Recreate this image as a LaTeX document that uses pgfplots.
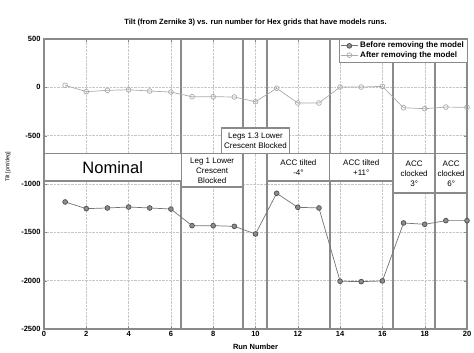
\documentclass[border=0pt]{standalone}
\usepackage{fontspec}
\setmainfont{Liberation Sans}
\usepackage{pgfplots}
\pgfplotsset{compat=1.18}
\definecolor{sepgray}{HTML}{8A8A8A}
\definecolor{darkpt}{HTML}{505050}
\definecolor{fillpt}{HTML}{8C8C8C}
\definecolor{lightpt}{HTML}{ABABAB}
\begin{document}
\begin{tikzpicture}
\begin{axis}[name=ax, scale only axis, width=423pt, height=290pt,
  xmin=0, xmax=20, ymin=-2500, ymax=500,
  xtick={0,2,...,20}, ytick={-2500,-2000,...,500},
  grid=major, grid style={densely dotted, gray!45},
  axis line style={sepgray, line width=1.2pt},
  tick align=inside, major tick length=3pt, tick style={sepgray},
  ticklabel style={font=\fontsize{7.5}{8}\selectfont\bfseries},
  /pgf/number format/assume math mode=true, /pgf/number format/1000 sep={},
  xticklabel style={yshift=1pt},
  title={Tilt (from Zernike 3) vs. run number for Hex grids that have models runs.},
  title style={font=\fontsize{7.6}{8}\selectfont\bfseries, at={(axis description cs:0.5,1)}, anchor=south, yshift=3pt},
  xlabel={Run Number}, xlabel style={font=\fontsize{7.5}{8}\selectfont\bfseries, at={(axis description cs:0.5,0)}, anchor=center, yshift=-18pt},
  ylabel={Tilt [pm/deg]}, ylabel style={font=\fontsize{5.5}{6}\selectfont, at={(axis description cs:-0.085,0.559)}, anchor=center},
  legend style={at={(1,1)}, anchor=north east, draw=sepgray, fill=white, font=\fontsize{8}{9}\selectfont\bfseries, inner sep=1pt, row sep=-2pt},
  legend cell align=left,
]
% separators
\draw[sepgray, line width=2pt] (axis cs:6.5,-2500) -- (axis cs:6.5,500);
\draw[sepgray, line width=2pt] (axis cs:9.4,-2500) -- (axis cs:9.4,500);
\draw[sepgray, line width=2pt] (axis cs:10.55,-2500) -- (axis cs:10.55,500);
\draw[sepgray, line width=2pt] (axis cs:13.5,-2500) -- (axis cs:13.5,500);
\draw[sepgray, line width=2pt] (axis cs:16.5,-2500) -- (axis cs:16.5,500);
\draw[sepgray, line width=2pt] (axis cs:18.5,-2500) -- (axis cs:18.5,500);
% boxes
\tikzset{cbox/.style={draw=sepgray, line width=1.6pt, fill=white}}
\draw[cbox] (axis cs:0,-683) rectangle (axis cs:6.5,-970);
\draw[cbox] (axis cs:6.5,-683) rectangle (axis cs:9.4,-1034);
\draw[cbox] (axis cs:10.55,-683) rectangle (axis cs:13.5,-970);
\draw[cbox] (axis cs:13.5,-683) rectangle (axis cs:16.5,-970);
\draw[cbox] (axis cs:16.5,-683) rectangle (axis cs:18.5,-1096);
\draw[cbox] (axis cs:18.5,-683) rectangle (axis cs:20,-1096);
\draw[cbox] (axis cs:8.4,-418) rectangle (axis cs:11.6,-683);
\node[font=\fontsize{16.5}{18}\selectfont] at (axis cs:3.25,-830) {Nominal};
\node[font=\fontsize{8}{10}\selectfont, align=center] at (axis cs:7.95,-865) {Leg 1 Lower\\Crescent\\Blocked};
\node[font=\fontsize{8}{10}\selectfont, align=center] at (axis cs:10,-548) {Legs 1.3 Lower\\Crescent Blocked};
\node[font=\fontsize{8}{10}\selectfont, align=center] at (axis cs:12.03,-833) {ACC tilted\\-4°};
\node[font=\fontsize{8}{10}\selectfont, align=center] at (axis cs:15,-833) {ACC tilted\\+11°};
\node[font=\fontsize{8}{10}\selectfont, align=center] at (axis cs:17.5,-895) {ACC\\clocked\\3°};
\node[font=\fontsize{8}{10}\selectfont, align=center] at (axis cs:19.25,-895) {ACC\\clocked\\6°};
\addplot[color=darkpt!80, line width=0.7pt, mark=*, mark size=2.4pt, mark options={fill=fillpt, draw=darkpt}] coordinates {
(1,-1186) (2,-1255) (3,-1248) (4,-1238) (5,-1248) (6,-1259) (7,-1431) (8,-1431) (9,-1438) (10,-1517)
(11,-1096) (12,-1241) (13,-1248) (14,-2006) (15,-2010) (16,-2003) (17,-1403) (18,-1417) (19,-1379) (20,-1379)};
\addlegendentry{Before removing the model}
\addplot[color=lightpt, line width=0.7pt, mark=o, mark size=2.4pt] coordinates {
(1,21) (2,-45) (3,-31) (4,-25) (5,-38) (6,-49) (7,-97) (8,-97) (9,-100) (10,-149)
(11,-10) (12,-162) (13,-162) (14,3) (15,3) (16,10) (17,-211) (18,-221) (19,-204) (20,-207)};
\addlegendentry{After removing the model}
\end{axis}
\pgfresetboundingbox
\path ([shift={(-44pt,-24pt)}]ax.south west) rectangle ([shift={(7pt,39pt)}]ax.north east);
\end{tikzpicture}
\end{document}
